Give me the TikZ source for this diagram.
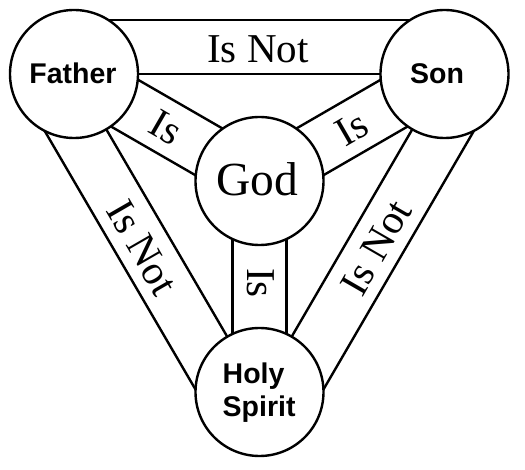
\documentclass[tikz,border=0pt]{standalone}
\usepackage{fontspec}
\setmainfont{Liberation Serif}
\newfontfamily\sansbold{Liberation Sans}
\usetikzlibrary{calc,backgrounds}
\tikzset{
  circ/.style={circle, draw, line width=2.4pt, fill=white, minimum size=128pt, inner sep=0pt},
  band/.style={line width=2.4pt},
  person/.style={font=\sansbold\bfseries\fontsize{28.5}{33}\selectfont, inner sep=0pt},
  godlbl/.style={font=\fontsize{47.5}{50}\selectfont, inner sep=0pt},
  rel/.style={font=\fontsize{41}{44}\selectfont, inner sep=0pt}
}
\begin{document}
\begin{tikzpicture}[x=1pt,y=-1pt]
\useasboundingbox (0,0) rectangle (525,470);
% circles
\node[circ] (F) at (74,74) {};
\node[circ] (S) at (444.5,74) {};
\node[circ] (G) at (259.5,181) {};
\node[circ] (H) at (259.5,392) {};
% bands
\begin{scope}[on background layer]
  % Is Not bands
  \draw[band] (F.center) -- (S.center);
  \draw[band] ($(F.center)!54pt!90:(S.center)$) -- ($(S.center)!54pt!-90:(F.center)$);
  \draw[band] (F.center) -- (H.center);
  \draw[band] ($(F.center)!54pt!-90:(H.center)$) -- ($(H.center)!54pt!90:(F.center)$);
  \draw[band] (S.center) -- (H.center);
  \draw[band] ($(S.center)!54pt!90:(H.center)$) -- ($(H.center)!54pt!-90:(S.center)$);
  % Is bands
  \draw[band] ($(F.center)!27pt!90:(G.center)$) -- ($(G.center)!27pt!-90:(F.center)$);
  \draw[band] ($(F.center)!27pt!-90:(G.center)$) -- ($(G.center)!27pt!90:(F.center)$);
  \draw[band] ($(S.center)!27pt!90:(G.center)$) -- ($(G.center)!27pt!-90:(S.center)$);
  \draw[band] ($(S.center)!27pt!-90:(G.center)$) -- ($(G.center)!27pt!90:(S.center)$);
  \draw[band] ($(G.center)!27pt!90:(H.center)$) -- ($(H.center)!27pt!-90:(G.center)$);
  \draw[band] ($(G.center)!27pt!-90:(H.center)$) -- ($(H.center)!27pt!90:(G.center)$);
\end{scope}
% labels
\node[person] (Fl) at (73,73.5) {Father};
\node[person] (Sl) at (437,74) {Son};
\node[person, align=left, anchor=west] (Hl) at (222.5,393) {Holy\\Spirit};
\node[godlbl] (Gl) at (257.5,179) {God};
\node[rel] (r1) at (258,49) {Is Not};
\node[rel, rotate=-60] (r2) at (142,247.5) {Is Not};
\node[rel, rotate=60] (r3) at (376,247.5) {Is Not};
\node[rel, rotate=-30] (r4) at (166,127.5) {Is};
\node[rel, rotate=30] (r5) at (352,128.5) {Is};
\node[rel, rotate=-90] (r6) at (260.5,283) {Is};
\end{tikzpicture}
\end{document}
